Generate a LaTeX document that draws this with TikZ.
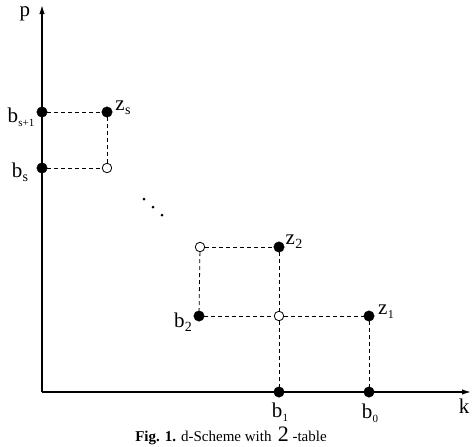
\documentclass[tikz,border=0pt]{standalone}
\usepackage{fontspec}
\setmainfont{Liberation Serif}
\usetikzlibrary{arrows.meta}
\newcommand{\lowsub}[2]{\kern0.3pt\raisebox{-0.45ex}{\fontsize{#1}{#1}\selectfont #2}}
\begin{document}
\begin{tikzpicture}[x=1pt,y=-1pt,
  axis/.style={line width=1.4pt,-{Latex[length=9pt,width=5.5pt]}},
  guide/.style={line width=0.8pt,dash pattern=on 4pt off 3pt},
  full/.style={circle,fill=black,draw=black,inner sep=0pt,minimum size=10.5pt},
  hollow/.style={circle,fill=white,draw=black,line width=0.8pt,inner sep=0pt,minimum size=9.5pt},
  lab/.style={font=\fontsize{21}{23}\selectfont,inner sep=0pt}]
\useasboundingbox (0,0) rectangle (474,447);
\coordinate (O) at (42,392);
\coordinate (ptop) at (42,5);
\coordinate (kend) at (471,392);
\draw[axis] (O) -- (ptop);
\draw[axis] (O) -- (kend);
% points
\node[full] (bs1) at (42,112) {};
\node[full] (zs) at (107,112) {};
\node[full] (bs) at (42,168) {};
\node[hollow] (hs) at (107,168) {};
\node[hollow] (h2) at (200,247) {};
\node[full] (z2) at (279,247) {};
\node[full] (b2) at (199,316) {};
\node[hollow] (h1) at (279,316) {};
\node[full] (z1) at (369,316) {};
\node[full] (b1) at (279,392) {};
\node[full] (b0) at (369,392) {};
% guides
\draw[guide] (bs1) -- (zs);
\draw[guide] (zs) -- (hs);
\draw[guide] (bs) -- (hs);
\draw[guide] (h2) -- (z2);
\draw[guide] (h2) -- (b2);
\draw[guide] (b2) -- (h1);
\draw[guide] (h1) -- (z1);
\draw[guide] (z2) -- (h1);
\draw[guide] (h1) -- (b1);
\draw[guide] (z1) -- (b0);
% dots
\fill (144,199) circle (1.5pt);
\fill (153,207) circle (1.5pt);
\fill (162,215) circle (1.5pt);
% labels
\node[lab] (lp) at (25,14) {p};
\node[lab] (lk) at (464,406) {k};
\node[lab] (lbs1) at (21,117) {b\lowsub{11}{s+1}};
\node[lab] (lbs) at (20,172) {b\lowsub{14}{s}};
\node[lab] (lzs) at (123,108) {z\lowsub{14}{s}};
\node[lab] (lz2) at (294,242) {z\lowsub{14}{2}};
\node[lab] (lz1) at (386,312) {z\lowsub{12}{1}};
\node[lab] (lb2) at (183,322) {b\lowsub{14}{2}};
\node[lab] (lb1) at (280,412) {b\lowsub{11}{1}};
\node[lab] (lb0) at (370,413) {b\lowsub{11}{0}};
\node[font=\fontsize{15}{17}\selectfont,inner sep=0pt] (cap) at (231,436) {\textbf{Fig. 1.} d-Scheme with \,{\fontsize{22}{22}\selectfont 2} -table};
\end{tikzpicture}
\end{document}
